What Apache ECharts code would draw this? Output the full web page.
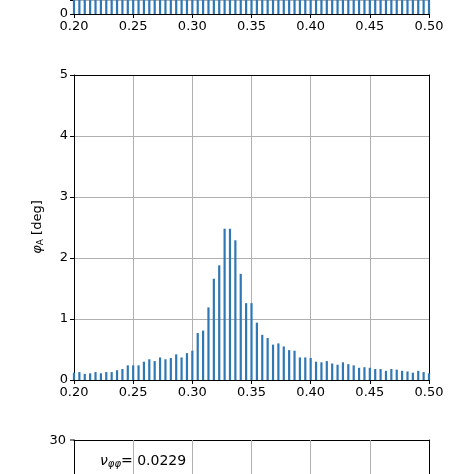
<!DOCTYPE html>
<html><head><meta charset="utf-8">
<script src="https://cdn.jsdelivr.net/npm/echarts@6/dist/echarts.min.js"></script>
<style>html,body{margin:0;padding:0;background:#fff}#c{width:474px;height:474px}</style>
</head><body><div id="c"></div>
<script>
const xStart = 0.20, xEnd = 0.50;
const phiA = [0.12,0.13,0.10,0.11,0.13,0.11,0.13,0.13,0.16,0.18,0.24,0.24,0.24,0.30,0.34,0.31,0.37,0.34,0.36,0.42,0.37,0.44,0.48,0.77,0.81,1.19,1.66,1.88,2.48,2.48,2.29,1.74,1.26,1.26,0.94,0.74,0.69,0.58,0.60,0.55,0.49,0.48,0.37,0.37,0.36,0.30,0.29,0.31,0.27,0.25,0.29,0.26,0.24,0.20,0.21,0.20,0.18,0.18,0.15,0.18,0.17,0.15,0.14,0.12,0.15,0.13,0.11];
const xTicks = [0.20,0.25,0.30,0.35,0.40,0.45,0.50];
const yTicks = [0,1,2,3,4,5];
const nuText = '0.0229';

const n = phiA.length;
const freqs = phiA.map((_, i) => xStart + i * (xEnd - xStart) / (n - 1));
const data = phiA.map((v, i) => [freqs[i], v]);
const F = 'DejaVu Sans';
const blue = '#2f77b5';
const lab = {fontFamily: F, fontSize: 13, color: '#000', formatter: v => v.toFixed(2), margin: 6};
function xa(gi, show, pos, line, split) {
  return {type:'value', gridIndex: gi, min: xStart, max: xEnd, interval: 0.05, position: pos||'bottom',
    axisLine:{show: line!==false, onZero:false, lineStyle:{color:'#000', width:1}},
    axisTick:{show: true, length: show?4:0, lineStyle:{color:'#000'}},
    axisLabel: show ? lab : {show:false},
    splitLine:{show: split!==undefined ? split : !pos, lineStyle:{color:'#b0b0b0', width:1}}};
}
function ya(gi, max, interval, show, pos, labels) {
  return {type:'value', gridIndex: gi, min:0, max:max, interval:interval, position: pos||'left',
    axisLine:{show:true, onZero:false, lineStyle:{color:'#000', width:1}},
    axisTick:{show: show, length:4, lineStyle:{color:'#000'}},
    axisLabel: show ? {fontFamily:F, fontSize:13, color:'#000', margin:6, formatter: labels} : {show:false},
    splitLine:{show: !pos, lineStyle:{color:'#b0b0b0', width:1}}};
}
const chart = echarts.init(document.getElementById('c'), null, {renderer:'canvas'});
chart.setOption({
  animation:false,
  grid:[
    {left:74, right:45, top:0, height:14},
    {left:74, right:45, top:75, height:305},
    {left:74, right:45, top:440, height:34}
  ],
  xAxis:[ xa(0,true), xa(1,true), xa(1,false,'top'), xa(2,false,'top',true,true) ],
  yAxis:[
    ya(0,0.05,0.05,true,null,v=> v===0?'0':''), ya(0,0.05,0.05,false,'right'),
    ya(1,5,1,true,null,v=>String(v)), ya(1,5,1,false,'right'),
    ya(2,30,30,false,null), ya(2,30,30,false,'right')
  ],
  series:[
    {type:'bar', xAxisIndex:0, yAxisIndex:0, data:data, barWidth:2.2, itemStyle:{color:blue}, clip:true},
    {type:'bar', xAxisIndex:1, yAxisIndex:2, data:data, barWidth:2.2, itemStyle:{color:blue}},
    {type:'line', xAxisIndex:3, yAxisIndex:4, data:[[xStart,0],[xEnd,0]], showSymbol:false, lineStyle:{opacity:0},
     markLine:{silent:true, symbol:'none', animation:false, label:{show:false},
       lineStyle:{color:'#b0b0b0', width:1, type:'solid'},
       data: xTicks.slice(1,-1).map(t => ({xAxis:t}))}}
  ],
  graphic:[
    {type:'text', x:38, y:227, rotation:Math.PI/2, style:{rich:{a:{font:'italic 13px DejaVu Sans', fill:'#000'}, s:{font:'9px DejaVu Sans', fill:'#000', padding:[5,0,0,0]}, b:{font:'13px DejaVu Sans', fill:'#000'}}, text:'{a|φ}{s|A}{b| [deg]}', align:'center', verticalAlign:'middle'}},
    {type:'text', x:66, y:441, style:{text:'30', font:'13px DejaVu Sans', fill:'#000', align:'right', verticalAlign:'middle'}},
    {type:'line', shape:{x1:70, y1:440, x2:74, y2:440}, style:{stroke:'#000'}},
    {type:'text', x:100, y:453, z:100, style:{rich:{a:{font:'italic 14px DejaVu Sans', fill:'#000'}, s:{font:'italic 10px DejaVu Sans', fill:'#000', padding:[6,0,0,0]}, b:{font:'14px DejaVu Sans', fill:'#000'}}, text:'{a|ν}{s|φφ}{b|= '+nuText+'}'}}
  ]
});
</script></body></html>
